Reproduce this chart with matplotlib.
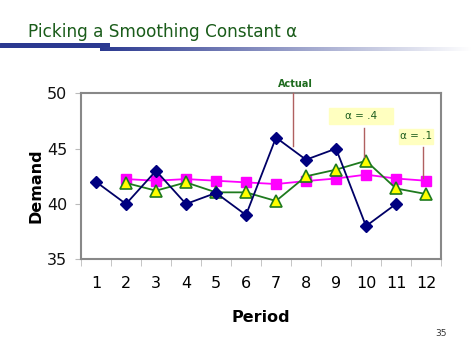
import matplotlib
matplotlib.use("Agg")
import matplotlib.pyplot as plt
import numpy as np
from matplotlib.patches import Rectangle

periods = list(range(1, 13))
actual_periods = list(range(1, 12))
actual = [42, 40, 43, 40, 41, 39, 46, 44, 45, 38, 40]
fc_periods = list(range(2, 13))
alpha01 = [42.25, 42.1, 42.25, 42.1, 41.95, 41.8, 42.07, 42.3, 42.65, 42.3, 42.1]
alpha04 = [41.9, 41.2, 41.95, 41.05, 41.05, 40.27, 42.5, 43.1, 43.9, 41.4, 40.9]
yticks = [35, 40, 45, 50]

W, H = 474, 355
fig = plt.figure(figsize=(W / 100, H / 100), dpi=100)

def fx(px):
    return px / W

def fy(py):
    return 1 - py / H

# Title
fig.text(fx(28), fy(37), "Picking a Smoothing Constant α", color="#1a5c1a",
         fontsize=12.2, family="DejaVu Sans", va="baseline", ha="left")

# Decorative bars under title
bar1 = fig.add_axes([fx(0), fy(48), fx(110), (48 - 43) / H])
bar1.axis("off")
bar1.add_patch(Rectangle((0, 0), 1, 1, color="#2b3990", transform=bar1.transAxes))
bar2 = fig.add_axes([fx(100), fy(51.5), fx(372), (51.5 - 47) / H])
bar2.axis("off")
grad = np.linspace(0, 1, 256)
cols = np.zeros((1, 256, 3))
c0 = np.array([0x2b, 0x39, 0x90]) / 255
for i, t in enumerate(grad):
    cols[0, i] = c0 * (1 - t) + np.ones(3) * t
bar2.imshow(cols, aspect="auto", extent=[0, 1, 0, 1])

ax = fig.add_axes([fx(81), fy(259.3), fx(441) - fx(81), fy(93.3) - fy(259.3)])
ax.set_xlim(0.5, 12.5)
ax.set_ylim(35, 50)

ax.plot(fc_periods, alpha01, color="#ff00ff", lw=1.3, marker="s", ms=7,
        mfc="#ff00ff", mec="#ff00ff", zorder=3)
ax.plot(fc_periods, alpha04, color="#1e7a1e", lw=1.3, marker="^", ms=8.5,
        mfc="#ffff00", mec="#1e7a1e", mew=1.2, zorder=4)
ax.plot(actual_periods, actual, color="#000066", lw=1.3, marker="D", ms=6.5,
        mfc="#000080", mec="#000080", zorder=5)

for s in ax.spines.values():
    s.set_color("#888888")
    s.set_linewidth(1.5)

ax.set_yticks(yticks)
ax.set_xticks(periods)
ax.set_xticks(np.arange(0.5, 13, 1), minor=True)
ax.tick_params(axis="x", which="major", length=0, labelsize=11.5, pad=12)
ax.tick_params(axis="x", which="minor", length=5, color="#bbbbbb", direction="out")
ax.tick_params(axis="y", length=4, color="#bbbbbb", labelsize=11.5, pad=6)
for lab in ax.get_yticklabels():
    lab.set_color("#111111")

fig.text(fx(36), fy(186), "Demand", rotation=90, fontsize=11.5, fontweight="bold",
         ha="center", va="center")
fig.text(fx(261), fy(318), "Period", fontsize=11.5, fontweight="bold",
         ha="center", va="center")
fig.text(fx(441), fy(333), "35", fontsize=6.5, ha="center", va="center", color="#333333")

# Annotations
line_c = "#b06060"
fig.text(fx(295), fy(84), "Actual", fontsize=7, fontweight="bold", color="#1e6b1e",
         ha="center", va="center")
fig.add_artist(plt.Line2D([fx(293), fx(293)], [fy(93), fy(146)], color=line_c, lw=1))

fig.add_artist(Rectangle((fx(329), fy(124)), fx(64), (124 - 107.7) / H,
                         color="#ffffc0", zorder=1))
fig.text(fx(361), fy(116), "α = .4", fontsize=7.5, color="#1e5e1e",
         ha="center", va="center", zorder=2)
fig.add_artist(plt.Line2D([fx(364), fx(364)], [fy(128), fy(157)], color=line_c, lw=1))

fig.add_artist(Rectangle((fx(399), fy(144)), fx(34), (144 - 129) / H,
                         color="#ffffc0", zorder=1))
fig.text(fx(416), fy(136.5), "α = .1", fontsize=7.5, color="#1e5e1e",
         ha="center", va="center", zorder=2)
fig.add_artist(plt.Line2D([fx(423), fx(423)], [fy(147), fy(178)], color=line_c, lw=1))

fig.savefig("out.png", dpi=100)
